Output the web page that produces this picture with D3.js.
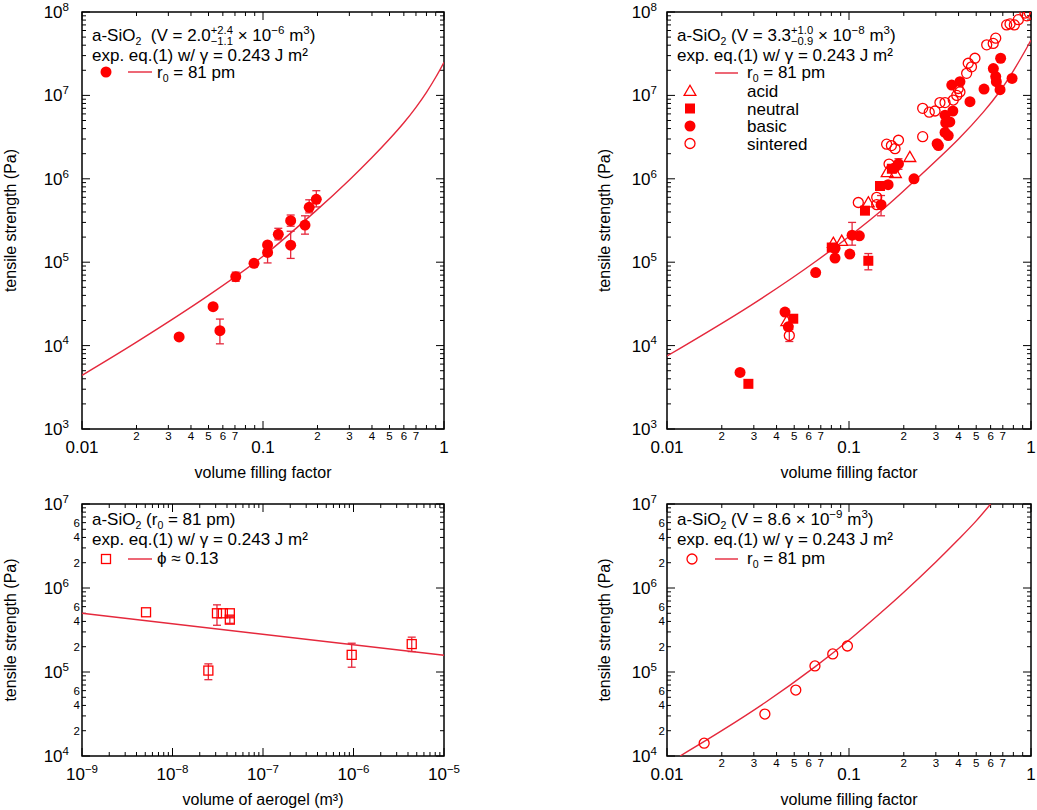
<!DOCTYPE html>
<html>
<head>
<meta charset="utf-8">
<script src="https://cdn.jsdelivr.net/npm/d3@7"></script>
<style>
  body { margin: 0; background: #fff; }
  svg text { font-family: 'Liberation Sans', Arial, Helvetica, sans-serif; white-space: pre; fill: #000; }
</style>
</head>
<body>
<svg id="chart" width="1037" height="810"></svg>
<script>
// ---- data ----
// top-left: aerogel, V = 2.0e-6 m3
const tlPoints = [
  [0.0344, 1.27e4], [0.053, 2.93e4], [0.0578, 1.51e4], [0.0707, 6.7e4],
  [0.0892, 9.7e4], [0.106, 1.31e5], [0.106, 1.61e5], [0.1215, 2.16e5],
  [0.1422, 3.15e5], [0.1422, 1.6e5], [0.1706, 2.79e5], [0.18, 4.55e5], [0.197, 5.68e5]
];
const tlErrors = [
  [0.0578, 1.05e4, 2.08e4], [0.0707, 5.9e4, 7.6e4], [0.106, 9.8e4, 1.6e5],
  [0.1215, 1.85e5, 2.55e5], [0.1422, 2.7e5, 3.68e5], [0.1422, 1.11e5, 2.35e5],
  [0.1706, 2.17e5, 3.6e5], [0.18, 3.9e5, 5.6e5], [0.197, 4.6e5, 7.2e5]
];
const tlCurve = [
  [0.01, 4.4e3], [0.02, 1.1e4], [0.05, 4.0e4], [0.1, 1.18e5], [0.2, 4.3e5],
  [0.3, 9.7e5], [0.4, 1.8e6], [0.5, 3.0e6], [0.6, 4.7e6], [0.7, 7.2e6],
  [0.8, 1.09e7], [0.9, 1.65e7], [1.0, 2.5e7]
];

// top-right: V = 3.3e-8 m3, four preparations
const trAcid = [
  [0.0455, 1.96e4], [0.082, 1.7e5], [0.0912, 1.8e5], [0.1277, 5.2e5],
  [0.162, 1.2e6], [0.18, 1.17e6], [0.216, 1.82e6]
];
const trNeutral = [
  [0.028, 3.48e3], [0.0494, 2.1e4], [0.0804, 1.5e5], [0.1224, 4.15e5],
  [0.1277, 1.04e5], [0.148, 8.2e5], [0.172, 1.32e6]
];
const trBasic = [
  [0.0252, 4.77e3], [0.0445, 2.52e4], [0.0464, 1.68e4], [0.0656, 7.5e4],
  [0.0838, 1.47e5], [0.0838, 1.12e5], [0.101, 1.25e5], [0.104, 2.11e5],
  [0.114, 2.07e5], [0.15, 4.9e5], [0.164, 8.5e5], [0.178, 1.35e6],
  [0.187, 1.51e6], [0.2275, 1.0e6], [0.305, 2.64e6], [0.31, 2.5e6],
  [0.337, 3.6e6], [0.351, 3.3e6], [0.34, 4.7e6], [0.358, 4.8e6],
  [0.337, 5.8e6], [0.372, 6.5e6], [0.367, 1.33e7], [0.407, 1.46e7],
  [0.462, 8.4e6], [0.552, 1.19e7], [0.621, 2.1e7], [0.64, 1.68e7],
  [0.645, 1.46e7], [0.681, 2.79e7], [0.676, 1.17e7], [0.787, 1.6e7]
];
const trSintered = [
  [0.047, 1.32e4], [0.1125, 5.2e5], [0.142, 6.0e5], [0.142, 4.9e5],
  [0.166, 1.5e6], [0.161, 2.6e6], [0.171, 2.5e6], [0.179, 2.3e6],
  [0.187, 2.9e6], [0.254, 3.2e6], [0.254, 7.0e6], [0.276, 6.3e6],
  [0.297, 6.5e6], [0.316, 8.2e6], [0.337, 8.2e6], [0.374, 8.8e6],
  [0.391, 1.0e7], [0.407, 1.1e7], [0.398, 1.21e7], [0.443, 1.84e7],
  [0.452, 2.43e7], [0.471, 2.2e7], [0.492, 2.79e7], [0.571, 4.04e7],
  [0.62, 4.2e7], [0.64, 4.86e7], [0.735, 7.0e7], [0.767, 7.2e7],
  [0.81, 7.0e7], [0.852, 8.1e7], [0.927, 9.7e7], [0.95, 9.0e7], [0.98, 9.7e7]
];
const trErrors = [
  [0.047, 1.12e4, 1.56e4], [0.0494, 1.9e4, 2.35e4], [0.104, 1.6e5, 3.0e5],
  [0.15, 3.6e5, 6.3e5], [0.1277, 8.1e4, 1.27e5], [0.187, 1.3e6, 1.74e6]
];
const trCurve = [
  [0.01, 7.5e3], [0.0286, 3.0e4], [0.0664, 1.04e5], [0.1544, 4.35e5],
  [0.2355, 1.0e6], [0.4, 3.0e6], [0.547, 6.3e6], [0.676, 1.13e7],
  [0.8, 1.97e7], [0.947, 3.7e7], [1.0, 4.6e7]
];

// bottom-left: strength vs aerogel volume
const blPoints = [
  [5.1e-9, 5.14e5], [3.1e-8, 5.0e5], [3.6e-8, 5.0e5], [4.3e-8, 5.0e5],
  [4.3e-8, 4.2e5], [2.49e-8, 1.04e5], [9.55e-7, 1.6e5], [4.4e-6, 2.15e5]
];
const blErrors = [
  [3.1e-8, 3.6e5, 6.3e5], [4.3e-8, 3.8e5, 4.6e5], [2.49e-8, 8.1e4, 1.25e5],
  [9.55e-7, 1.14e5, 2.2e5], [4.4e-6, 1.75e5, 2.6e5]
];
const blCurve = [[1e-9, 5.0e5], [1e-5, 1.58e5]];

// bottom-right: V = 8.6e-9 m3
const brPoints = [
  [0.016, 1.42e4], [0.0345, 3.16e4], [0.051, 6.1e4], [0.065, 1.18e5],
  [0.0814, 1.64e5], [0.098, 2.04e5]
];
const brCurve = [
  [0.0118, 1.0e4], [0.02, 2.0e4], [0.0345, 4.3e4], [0.065, 1.15e5],
  [0.1, 2.4e5], [0.15, 5.1e5], [0.2, 8.9e5], [0.3, 2.04e6], [0.4, 3.8e6],
  [0.5, 6.3e6], [0.6, 1.0e7]
];

const phiMajorLabels = { 0.01: "0.01", 0.1: "0.1", 1: "1" };
const minorXLabels = [2, 3, 4, 5, 6, 7];
const minorYLabels = [2, 4, 6];

// ---- drawing ----
const RED = "#ff0000";
const LINE = "#e5283c";
const LEG = 17;   // legend font size
const svg = d3.select("#chart");

// rich text: pieces drawn one after another, measured as we go
function rich(g, x, y, parts, fs, anchor) {
  const grp = g.append("g");
  let cx = 0;
  parts.forEach(p => {
    if (typeof p === "string") p = { t: p };
    if (p.stack) {
      const s = fs * 0.66;
      const a = grp.append("text").attr("x", cx).attr("y", -fs * 0.42).style("font-size", s + "px").text(p.stack[0]);
      const b = grp.append("text").attr("x", cx).attr("y", fs * 0.25).style("font-size", s + "px").text(p.stack[1]);
      cx += Math.max(a.node().getComputedTextLength(), b.node().getComputedTextLength());
    } else {
      const s = p.sup ? fs * 0.68 : p.sub ? fs * 0.62 : fs;
      const dy = p.sup ? -fs * 0.42 : p.sub ? fs * 0.22 : 0;
      const t = grp.append("text").attr("x", cx).attr("y", dy).style("font-size", s + "px").text(p.t);
      cx += t.node().getComputedTextLength();
    }
  });
  const dx = anchor === "end" ? -cx : anchor === "middle" ? -cx / 2 : 0;
  grp.attr("transform", `translate(${x + dx},${y})`);
  return grp;
}

function decades(domain) {
  const lo = Math.round(Math.log10(domain[0])), hi = Math.round(Math.log10(domain[1]));
  return d3.range(lo, hi + 1);
}

function makePanel(cfg, idx) {
  const { L, T, W, H } = cfg;
  const x = d3.scaleLog().domain(cfg.xd).range([L, L + W]);
  const y = d3.scaleLog().domain(cfg.yd).range([T + H, T]);
  const g = svg.append("g");

  const clipId = "clip" + idx;
  svg.append("clipPath").attr("id", clipId)
    .append("rect").attr("x", L).attr("y", T).attr("width", W).attr("height", H);

  // ticks, mirrored on all four sides
  const ticks = g.append("g").attr("stroke", "#000").attr("stroke-width", 1);
  decades(cfg.xd).forEach(d => {
    const base = Math.pow(10, d);
    for (let k = 1; k <= 9; k++) {
      const v = k * base;
      if (v < cfg.xd[0] * 0.999 || v > cfg.xd[1] * 1.001) continue;
      const len = k === 1 ? 8 : 4, px = x(v);
      ticks.append("line").attr("x1", px).attr("x2", px).attr("y1", T + H).attr("y2", T + H - len);
      ticks.append("line").attr("x1", px).attr("x2", px).attr("y1", T).attr("y2", T + len);
      if (k === 1) {
        if (cfg.xLog) {
          rich(g, px, T + H + 24, ["10", { t: String(d).replace("-", "\u2212"), sup: true }], 17, "middle");
        } else {
          g.append("text").attr("x", px).attr("y", T + H + 24).attr("text-anchor", "middle")
            .style("font-size", "17px").text(phiMajorLabels[+v.toPrecision(3)]);
        }
      } else if (!cfg.xLog && minorXLabels.includes(k)) {
        g.append("text").attr("x", px).attr("y", T + H + 11).attr("text-anchor", "middle")
          .style("font-size", "11.5px").text(k);
      }
    }
  });
  decades(cfg.yd).forEach(d => {
    const base = Math.pow(10, d);
    for (let k = 1; k <= 9; k++) {
      const v = k * base;
      if (v < cfg.yd[0] * 0.999 || v > cfg.yd[1] * 1.001) continue;
      const len = k === 1 ? 8 : 4, py = y(v);
      ticks.append("line").attr("x1", L).attr("x2", L + len).attr("y1", py).attr("y2", py);
      ticks.append("line").attr("x1", L + W).attr("x2", L + W - len).attr("y1", py).attr("y2", py);
      if (k === 1) {
        rich(g, L - cfg.ylGap, py + 6, ["10", { t: String(d), sup: true }], 17, "end");
      } else if (cfg.yMinor && minorYLabels.includes(k)) {
        g.append("text").attr("x", L - 2).attr("y", py + 4).attr("text-anchor", "end")
          .style("font-size", "11.5px").text(k);
      }
    }
  });

  g.append("rect").attr("x", L).attr("y", T).attr("width", W).attr("height", H)
    .attr("fill", "none").attr("stroke", "#000").attr("stroke-width", 1.5);

  // axis titles
  g.append("text").attr("x", L + W / 2).attr("y", T + H + 49).attr("text-anchor", "middle")
    .style("font-size", "16px").text(cfg.xTitle);
  g.append("text").attr("transform", `translate(${cfg.yTitleX},${T + H / 2}) rotate(-90)`)
    .attr("text-anchor", "middle").attr("dy", "0.35em").style("font-size", "16px").text("tensile strength (Pa)");

  const plot = g.append("g").attr("clip-path", `url(#${clipId})`);
  return { x, y, g, plot };
}

const line = (p, data) => d3.line().x(d => p.x(d[0])).y(d => p.y(d[1])).curve(d3.curveCatmullRom.alpha(0.5))(data);

function drawCurve(p, data) {
  p.plot.append("path").attr("d", line(p, data)).attr("fill", "none")
    .attr("stroke", LINE).attr("stroke-width", 1.4);
}

function drawErrors(p, data) {
  const eg = p.plot.append("g").attr("stroke", LINE).attr("stroke-width", 1.3);
  data.forEach(([vx, lo, hi]) => {
    const px = p.x(vx);
    eg.append("line").attr("x1", px).attr("x2", px).attr("y1", p.y(lo)).attr("y2", p.y(hi));
    eg.append("line").attr("x1", px - 4).attr("x2", px + 4).attr("y1", p.y(lo)).attr("y2", p.y(lo));
    eg.append("line").attr("x1", px - 4).attr("x2", px + 4).attr("y1", p.y(hi)).attr("y2", p.y(hi));
  });
}

function marker(g, kind, cx, cy) {
  if (kind === "dot") {
    g.append("circle").attr("cx", cx).attr("cy", cy).attr("r", 5.5).attr("fill", RED);
  } else if (kind === "ring") {
    g.append("circle").attr("cx", cx).attr("cy", cy).attr("r", 5).attr("fill", "none")
      .attr("stroke", RED).attr("stroke-width", 1.3);
  } else if (kind === "square") {
    g.append("rect").attr("x", cx - 5).attr("y", cy - 5).attr("width", 10).attr("height", 10).attr("fill", RED);
  } else if (kind === "box") {
    g.append("rect").attr("x", cx - 4.5).attr("y", cy - 4.5).attr("width", 9).attr("height", 9)
      .attr("fill", "none").attr("stroke", RED).attr("stroke-width", 1.3);
  } else if (kind === "tri") {
    g.append("path").attr("transform", `translate(${cx},${cy + 1})`)
      .attr("d", d3.symbol(d3.symbolTriangle, 60)()).attr("fill", "none")
      .attr("stroke", RED).attr("stroke-width", 1.3);
  }
}

function drawPoints(p, data, kind) {
  const mg = p.plot.append("g");
  data.forEach(d => marker(mg, kind, p.x(d[0]), p.y(d[1])));
}

function legendLine(g, x1, x2, yy) {
  g.append("line").attr("x1", x1).attr("x2", x2).attr("y1", yy).attr("y2", yy)
    .attr("stroke", LINE).attr("stroke-width", 1.4);
}

const phiTitle = "volume filling factor";
const gammaText = "exp. eq.(1) w/ \u03b3 = 0.243 J m\u00b2";
const r0Text = [{ t: "r" }, { t: "0", sub: true }, " = 81 pm"];

// top-left
const tl = makePanel({ L: 82, T: 12, W: 362, H: 417, xd: [0.01, 1], yd: [1e3, 1e8],
  xTitle: phiTitle, yTitleX: 10, ylGap: 13 }, 0);
drawCurve(tl, tlCurve);
drawErrors(tl, tlErrors);
drawPoints(tl, tlPoints, "dot");
rich(tl.g, 92, 41, ["a-SiO", { t: "2", sub: true }, "  (V = 2.0", { stack: ["+2.4", "\u22121.1"] },
  " \u00d7 10", { t: "\u22126", sup: true }, " m", { t: "3", sup: true }, ")"], LEG);
rich(tl.g, 92, 61, [gammaText], LEG);
marker(tl.g, "dot", 106, 72);
legendLine(tl.g, 128, 152, 72);
rich(tl.g, 157, 78, r0Text, LEG);

// top-right
const tr = makePanel({ L: 667, T: 12, W: 364, H: 417, xd: [0.01, 1], yd: [1e3, 1e8],
  xTitle: phiTitle, yTitleX: 604, ylGap: 10 }, 1);
drawCurve(tr, trCurve);
drawErrors(tr, trErrors);
drawPoints(tr, trSintered, "ring");
drawPoints(tr, trAcid, "tri");
drawPoints(tr, trBasic, "dot");
drawPoints(tr, trNeutral, "square");
rich(tr.g, 677, 41, ["a-SiO", { t: "2", sub: true }, " (V = 3.3", { stack: ["+1.0", "\u22120.9"] },
  " \u00d7 10", { t: "\u22128", sup: true }, " m", { t: "3", sup: true }, ")"], LEG);
rich(tr.g, 677, 61, [gammaText], LEG);
legendLine(tr.g, 715, 738, 73);
rich(tr.g, 747, 78, r0Text, LEG);
[["tri", "acid"], ["square", "neutral"], ["dot", "basic"], ["ring", "sintered"]].forEach(([k, name], i) => {
  marker(tr.g, k, 690, 91 + i * 17.5);
  rich(tr.g, 747, 97 + i * 17.5, [name], LEG);
});

// bottom-left
const bl = makePanel({ L: 82, T: 504, W: 362, H: 252, xd: [1e-9, 1e-5], yd: [1e4, 1e7],
  xTitle: "volume of aerogel (m\u00b3)", yTitleX: 10, ylGap: 13, xLog: true, yMinor: true }, 2);
drawCurve(bl, blCurve);
drawErrors(bl, blErrors);
drawPoints(bl, blPoints, "box");
rich(bl.g, 92, 525, ["a-SiO", { t: "2", sub: true }, " (r", { t: "0", sub: true }, " = 81 pm)"], LEG);
rich(bl.g, 92, 545, [gammaText], LEG);
marker(bl.g, "box", 106, 559);
legendLine(bl.g, 128, 152, 559);
rich(bl.g, 157, 564, ["\u03d5 \u2248 0.13"], LEG);

// bottom-right
const br = makePanel({ L: 667, T: 504, W: 364, H: 252, xd: [0.01, 1], yd: [1e4, 1e7],
  xTitle: phiTitle, yTitleX: 604, ylGap: 10, yMinor: true }, 3);
drawCurve(br, brCurve);
drawPoints(br, brPoints, "ring");
rich(br.g, 677, 525, ["a-SiO", { t: "2", sub: true }, " (V = 8.6 \u00d7 10", { t: "\u22129", sup: true },
  " m", { t: "3", sup: true }, ")"], LEG);
rich(br.g, 677, 545, [gammaText], LEG);
marker(br.g, "ring", 692, 559);
legendLine(br.g, 715, 738, 559);
rich(br.g, 747, 564, r0Text, LEG);
</script>
</body>
</html>
